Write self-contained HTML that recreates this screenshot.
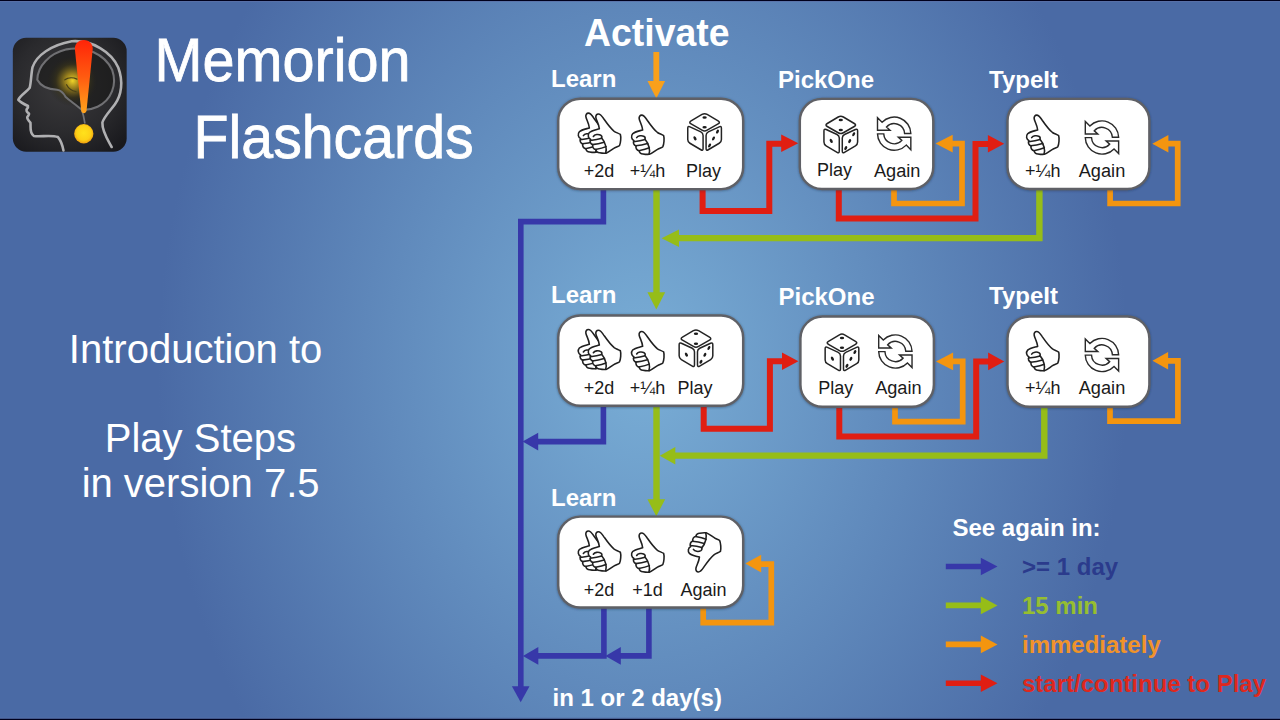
<!DOCTYPE html>
<html lang="en"><head><meta charset="utf-8"><title>Memorion Flashcards - Introduction to Play Steps in version 7.5</title>
<style>
html,body{margin:0;padding:0;width:1280px;height:720px;overflow:hidden;background:#4a6bab}
svg{display:block;font-family:"Liberation Sans",sans-serif}
</style></head><body>
<svg width="1280" height="720" viewBox="0 0 1280 720">
<defs>
<radialGradient id="bg" gradientUnits="userSpaceOnUse" cx="643" cy="365" r="485" gradientTransform="translate(643,365) scale(1,1.28) translate(-643,-365)">
<stop offset="0" stop-color="#79aed6"/><stop offset="1" stop-color="#4a6aa5"/>
</radialGradient>
<filter id="sh" x="-10%" y="-15%" width="120%" height="130%"><feDropShadow dx="0" dy="0.5" stdDeviation="1.2" flood-color="#20304a" flood-opacity="0.55"/></filter>
<g id="thumb" fill="#fff" stroke="#202020" stroke-width="19" stroke-linejoin="round" stroke-linecap="round">
<path d="M860,122 C840,122 826,140 830,165 C836,200 866,240 872,300 C830,312 780,318 752,345 C728,372 738,412 768,428 C752,450 764,482 794,492 C784,515 802,546 832,550 C830,572 852,588 876,587 C900,592 930,594 952,592 C990,580 1030,540 1064,524 C1085,514 1105,510 1114,500 C1128,470 1134,400 1124,368 C1100,352 1070,345 1050,330 C1000,290 960,230 925,180 C905,150 885,122 860,122 Z"/>
<path d="M800,392 C815,368 860,360 890,378 C905,388 905,402 898,408" fill="none"/>
<path d="M764,440 C810,436 860,428 902,414 C925,440 940,470 948,505 C958,540 955,570 948,590" fill="none"/>
<path d="M788,490 C835,486 885,476 930,462" fill="none"/>
<path d="M826,548 C870,540 915,530 952,514" fill="none"/>
</g>
<g id="dice" fill="#fff" stroke="#242424" stroke-width="18" stroke-linejoin="round">
<path d="M384,113 Q415,95 446,113 L577,191 Q608,209 577,227 L446,302 Q415,320 384,302 L253,227 Q222,209 253,191 Z"/>
<path d="M213,280 Q213,250 240,263 L370,323 Q397,336 397,366 L397,522 Q397,552 371,537 L239,459 Q213,444 213,414 Z"/>
<path d="M433,366 Q433,336 460,323 L590,263 Q617,250 617,280 L617,414 Q617,444 591,459 L459,537 Q433,552 433,522 Z"/>
<g fill="#1c1c1c" stroke="none">
<ellipse cx="415" cy="150" rx="26" ry="15"/><ellipse cx="415" cy="268" rx="26" ry="15"/>
<ellipse cx="300" cy="400" rx="16" ry="27" transform="rotate(-28 300 400)"/>
<ellipse cx="570" cy="320" rx="15" ry="26" transform="rotate(28 570 320)"/>
<ellipse cx="522" cy="402" rx="15" ry="26" transform="rotate(28 522 402)"/>
<ellipse cx="475" cy="486" rx="15" ry="26" transform="rotate(28 475 486)"/>
</g></g>
<g id="refresh" fill="#fff" stroke="#2a2a2a" stroke-width="17" stroke-linejoin="miter">
<path id="rfh" d="M550,340 A200,200 0 0 0 205,205 L150,150 L150,300 L300,300 L258,262 A125,125 0 0 1 475,340 Z"/>
<use href="#rfh" transform="rotate(180 350 342)"/>
</g>
<radialGradient id="lg" gradientUnits="userSpaceOnUse" cx="330" cy="300" r="480"><stop offset="0" stop-color="#3b3a3c"/><stop offset="0.6" stop-color="#2a2a2d"/><stop offset="1" stop-color="#19191d"/></radialGradient>
<radialGradient id="glow" gradientUnits="userSpaceOnUse" cx="375" cy="278" r="150"><stop offset="0" stop-color="#f0d428" stop-opacity="1"/><stop offset="0.3" stop-color="#a88c1c" stop-opacity="0.85"/><stop offset="0.65" stop-color="#3c3618" stop-opacity="0.6"/><stop offset="1" stop-color="#1e1e1c" stop-opacity="0"/></radialGradient>
<linearGradient id="ex" gradientUnits="userSpaceOnUse" x1="0" y1="40" x2="0" y2="465"><stop offset="0" stop-color="#ff2408"/><stop offset="0.5" stop-color="#ff5a10"/><stop offset="1" stop-color="#ffa41c"/></linearGradient>
<radialGradient id="dot" gradientUnits="userSpaceOnUse" cx="440" cy="580" r="60"><stop offset="0" stop-color="#ffe21c"/><stop offset="0.7" stop-color="#fdd016"/><stop offset="1" stop-color="#f0a010"/></radialGradient>
</defs>
<rect width="1280" height="720" fill="url(#bg)"/>
<rect width="1280" height="1" fill="#00001c"/><rect y="1" width="1280" height="1" fill="#5a70a8" opacity="0.8"/>
<rect y="718.6" width="1280" height="1.4" fill="#00001c"/><rect y="717.6" width="1280" height="1" fill="#5a70a8" opacity="0.8"/>
<g transform="translate(8,33) scale(0.17224)">
<rect x="28" y="28" width="661" height="661" rx="78" fill="url(#lg)"/>
<path d="M170,272 C172,190 240,120 340,95 C450,75 560,120 605,215 C635,300 600,390 520,428 C490,442 455,448 428,446 C400,420 360,395 335,372 C320,345 305,332 285,330 C245,328 195,320 170,272 Z" fill="#161614" opacity="0.55"/>
<circle cx="375" cy="278" r="150" fill="url(#glow)"/>
<path d="M322,682 C316,650 306,622 290,604 C250,590 190,604 150,598 C122,580 134,545 130,520 C118,508 110,498 112,488 C118,478 124,474 122,468 C108,460 104,450 110,440 C116,434 118,430 116,424 C92,412 70,400 60,388 C66,366 110,340 126,318 C134,290 134,240 142,200 C165,130 250,70 370,48 C490,40 600,110 640,200 C670,280 660,360 620,415 C590,455 555,490 548,520 C545,570 585,630 602,662" fill="none" stroke="#b0b0b2" stroke-width="15" stroke-linecap="round" stroke-linejoin="round"/>
<path d="M170,272 C172,190 240,120 340,95 C450,75 560,120 605,215 C635,300 600,390 520,428 C490,442 455,448 428,446 C400,420 360,395 335,372 C320,345 305,332 285,330 C245,328 195,320 170,272 Z" fill="none" stroke="#707073" stroke-width="12" stroke-linejoin="round"/>
<path d="M428,446 C436,470 442,495 446,522" fill="none" stroke="#737376" stroke-width="10" stroke-linecap="round"/>
<path d="M330,272 C350,258 380,258 400,268 M340,300 C350,320 370,335 395,340" fill="none" stroke="#4a4218" stroke-width="7" stroke-linecap="round"/>
<path d="M388,92 C388,24 492,24 492,92 L456,452 C452,470 428,470 425,452 Z" fill="url(#ex)"/>
<circle cx="440" cy="585" r="56" fill="url(#dot)"/>
</g>
<text x="154.6" y="80.5" font-size="62" fill="#fff" font-weight="normal" text-anchor="start" textLength="256" lengthAdjust="spacingAndGlyphs" stroke="#fff" stroke-width="0.8">Memorion</text>
<text x="193.6" y="157.5" font-size="62" fill="#fff" font-weight="normal" text-anchor="start" textLength="280" lengthAdjust="spacingAndGlyphs" stroke="#fff" stroke-width="0.8">Flashcards</text>
<text x="195.6" y="363" font-size="40" fill="#fff" font-weight="normal" text-anchor="middle">Introduction to</text>
<text x="200.4" y="451.5" font-size="40" fill="#fff" font-weight="normal" text-anchor="middle">Play Steps</text>
<text x="200.6" y="497" font-size="40" fill="#fff" font-weight="normal" text-anchor="middle">in version 7.5</text>
<text x="584" y="46.2" font-size="39.5" fill="#fff" font-weight="bold" text-anchor="start" textLength="145.5" lengthAdjust="spacingAndGlyphs">Activate</text>
<text x="551" y="86.5" font-size="24" fill="#fff" font-weight="bold" text-anchor="start">Learn</text>
<text x="778" y="87.5" font-size="24" fill="#fff" font-weight="bold" text-anchor="start">PickOne</text>
<text x="989" y="87.5" font-size="24" fill="#fff" font-weight="bold" text-anchor="start">TypeIt</text>
<text x="551" y="303" font-size="24" fill="#fff" font-weight="bold" text-anchor="start">Learn</text>
<text x="778.5" y="305" font-size="24" fill="#fff" font-weight="bold" text-anchor="start">PickOne</text>
<text x="989" y="304" font-size="24" fill="#fff" font-weight="bold" text-anchor="start">TypeIt</text>
<text x="551" y="506" font-size="24" fill="#fff" font-weight="bold" text-anchor="start">Learn</text>
<text x="552.5" y="705.5" font-size="24" fill="#fff" font-weight="bold" text-anchor="start">in 1 or 2 day(s)</text>
<polyline points="603.4,185 603.4,221.6 520.8,221.6 520.8,690" fill="none" stroke="#3738a9" stroke-width="5.6" stroke-linejoin="miter"/>
<polygon points="520.7,702.3 511.9,686.3 529.5,686.3" fill="#3738a9"/>
<polyline points="603.4,400 603.4,441.6 536,441.6" fill="none" stroke="#3738a9" stroke-width="5.6" stroke-linejoin="miter"/>
<polygon points="522.6,441.6 538.2,432.8 538.2,450.4" fill="#3738a9"/>
<polyline points="603.9,600 603.9,655.9 536,655.9" fill="none" stroke="#3738a9" stroke-width="5.6" stroke-linejoin="miter"/>
<polygon points="522.9,655.9 538.3,647.1 538.3,664.7" fill="#3738a9"/>
<polyline points="648.9,600 648.9,655.9 619,655.9" fill="none" stroke="#3738a9" stroke-width="5.6" stroke-linejoin="miter"/>
<polygon points="605.4,655.9 620.8,647.1 620.8,664.7" fill="#3738a9"/>
<polyline points="656.3,52 656.3,83" fill="none" stroke="#f9a01b" stroke-width="5.8" stroke-linejoin="miter"/>
<polygon points="656.3,98.5 647.5,81.0 665.1,81.0" fill="#f9a01b"/>
<polyline points="656.5,185 656.5,294" fill="none" stroke="#96bd18" stroke-width="6.4" stroke-linejoin="miter"/>
<polygon points="656.3,309.6 647.4,292.3 665.2,292.3" fill="#96bd18"/>
<polyline points="656.5,400 656.5,501" fill="none" stroke="#96bd18" stroke-width="6.4" stroke-linejoin="miter"/>
<polygon points="656.3,516.2 647.4,499.2 665.2,499.2" fill="#96bd18"/>
<polyline points="1039.4,185 1039.4,238.1 677,238.1" fill="none" stroke="#96bd18" stroke-width="6.4" stroke-linejoin="miter"/>
<polygon points="661.6,238.3 679.0,229.5 679.0,247.1" fill="#96bd18"/>
<polyline points="1044.3,400 1044.3,455.6 674,455.6" fill="none" stroke="#96bd18" stroke-width="6.4" stroke-linejoin="miter"/>
<polygon points="659.8,455.7 675.3,446.9 675.3,464.5" fill="#96bd18"/>
<polyline points="702.6,185 702.6,211.1 769.3,211.1 769.3,143.7 783,143.7" fill="none" stroke="#e01e12" stroke-width="6.0" stroke-linejoin="miter"/>
<polygon points="798.3,143.2 781.2,134.4 781.2,152.0" fill="#e01e12"/>
<polyline points="838.8,185 838.8,218.4 975.5,218.4 975.5,143.9 989,143.9" fill="none" stroke="#e01e12" stroke-width="6.0" stroke-linejoin="miter"/>
<polygon points="1004.2,143.7 987.9,134.9 987.9,152.5" fill="#e01e12"/>
<polyline points="894,185 894,203.5 962,203.5 962,143.7 951,143.7" fill="none" stroke="#f4950f" stroke-width="5.7" stroke-linejoin="miter"/>
<polygon points="935.5,143.6 952.7,134.8 952.7,152.4" fill="#f4950f"/>
<polyline points="1110.1,185 1110.1,203.5 1177.7,203.5 1177.7,143.7 1167,143.7" fill="none" stroke="#f4950f" stroke-width="5.7" stroke-linejoin="miter"/>
<polygon points="1152.3,143.7 1168.4,134.9 1168.4,152.5" fill="#f4950f"/>
<polyline points="703.7,400 703.7,428.7 769.9,428.7 769.9,361.2 784,361.2" fill="none" stroke="#e01e12" stroke-width="6.0" stroke-linejoin="miter"/>
<polygon points="798.4,361.3 782.0,352.5 782.0,370.1" fill="#e01e12"/>
<polyline points="839.3,400 839.3,436.6 976.2,436.6 976.2,361.4 989,361.4" fill="none" stroke="#e01e12" stroke-width="6.0" stroke-linejoin="miter"/>
<polygon points="1004.3,361.4 988.1,352.6 988.1,370.2" fill="#e01e12"/>
<polyline points="895,400 895,421.6 962.7,421.6 962.7,361.4 952,361.4" fill="none" stroke="#f4950f" stroke-width="5.7" stroke-linejoin="miter"/>
<polygon points="936,361.4 953.1,352.6 953.1,370.2" fill="#f4950f"/>
<polyline points="1110,400 1110,421.2 1177.9,421.2 1177.9,360.8 1167,360.8" fill="none" stroke="#f4950f" stroke-width="5.7" stroke-linejoin="miter"/>
<polygon points="1152.5,360.8 1168.1,352.0 1168.1,369.6" fill="#f4950f"/>
<polyline points="703.2,600 703.2,622.6 771.3,622.6 771.3,564.1 760,564.1" fill="none" stroke="#f4950f" stroke-width="5.7" stroke-linejoin="miter"/>
<polygon points="745.3,563.6 761.2,554.8 761.2,572.4" fill="#f4950f"/>
<rect x="558.25" y="98.75" width="184.89999999999998" height="90.4" rx="22" ry="22" fill="#fff" stroke="#5f6166" stroke-width="2.4" filter="url(#sh)"/>
<use href="#thumb" transform="translate(516.70,103.00) scale(0.08333)"/>
<use href="#thumb" transform="translate(526.70,103.80) scale(0.08333)"/>
<use href="#thumb" transform="translate(570.00,105.00) scale(0.08333)"/>
<use href="#dice" transform="translate(670.00,105.00) scale(0.08333)"/>
<text x="599" y="176.7" font-size="18" fill="#1a1a1a" font-weight="normal" text-anchor="middle">+2d</text>
<text x="647.5" y="176.7" font-size="18" fill="#1a1a1a" font-weight="normal" text-anchor="middle">+¼h</text>
<text x="703.5" y="176.7" font-size="18" fill="#1a1a1a" font-weight="normal" text-anchor="middle">Play</text>
<rect x="799.85" y="98.85" width="133.39999999999998" height="90.1" rx="22" ry="22" fill="#fff" stroke="#5f6166" stroke-width="2.4" filter="url(#sh)"/>
<use href="#dice" transform="translate(806.20,107.60) scale(0.08333)"/>
<use href="#refresh" transform="translate(865.00,105.20) scale(0.08333)"/>
<text x="834.5" y="175.8" font-size="18" fill="#1a1a1a" font-weight="normal" text-anchor="middle">Play</text>
<text x="897.2" y="176.6" font-size="18" fill="#1a1a1a" font-weight="normal" text-anchor="middle" textLength="46.5" lengthAdjust="spacingAndGlyphs">Again</text>
<rect x="1007.55" y="98.85" width="141.79999999999995" height="90.1" rx="22" ry="22" fill="#fff" stroke="#5f6166" stroke-width="2.4" filter="url(#sh)"/>
<use href="#thumb" transform="translate(965.00,105.00) scale(0.08333)"/>
<use href="#refresh" transform="translate(1072.80,109.00) scale(0.08333)"/>
<text x="1042.7" y="176.6" font-size="18" fill="#1a1a1a" font-weight="normal" text-anchor="middle">+¼h</text>
<text x="1102" y="176.6" font-size="18" fill="#1a1a1a" font-weight="normal" text-anchor="middle" textLength="46.5" lengthAdjust="spacingAndGlyphs">Again</text>
<rect x="558.25" y="315.55" width="184.89999999999998" height="90.19999999999999" rx="22" ry="22" fill="#fff" stroke="#5f6166" stroke-width="2.4" filter="url(#sh)"/>
<use href="#thumb" transform="translate(516.70,319.30) scale(0.08333)"/>
<use href="#thumb" transform="translate(526.70,320.10) scale(0.08333)"/>
<use href="#thumb" transform="translate(570.00,321.30) scale(0.08333)"/>
<use href="#dice" transform="translate(661.40,321.30) scale(0.08333)"/>
<text x="599" y="394.4" font-size="18" fill="#1a1a1a" font-weight="normal" text-anchor="middle">+2d</text>
<text x="647.5" y="394.4" font-size="18" fill="#1a1a1a" font-weight="normal" text-anchor="middle">+¼h</text>
<text x="694.9" y="393.79999999999995" font-size="18" fill="#1a1a1a" font-weight="normal" text-anchor="middle">Play</text>
<rect x="800.45" y="316.55" width="133.39999999999998" height="90.19999999999999" rx="22" ry="22" fill="#fff" stroke="#5f6166" stroke-width="2.4" filter="url(#sh)"/>
<use href="#dice" transform="translate(807.40,325.40) scale(0.08333)"/>
<use href="#refresh" transform="translate(866.20,323.00) scale(0.08333)"/>
<text x="835.7" y="393.6" font-size="18" fill="#1a1a1a" font-weight="normal" text-anchor="middle">Play</text>
<text x="898.4000000000001" y="394.4" font-size="18" fill="#1a1a1a" font-weight="normal" text-anchor="middle" textLength="46.5" lengthAdjust="spacingAndGlyphs">Again</text>
<rect x="1007.55" y="316.55" width="141.79999999999995" height="90.19999999999999" rx="22" ry="22" fill="#fff" stroke="#5f6166" stroke-width="2.4" filter="url(#sh)"/>
<use href="#thumb" transform="translate(965.00,321.40) scale(0.08333)"/>
<use href="#refresh" transform="translate(1072.80,326.50) scale(0.08333)"/>
<text x="1042.7" y="393.9" font-size="18" fill="#1a1a1a" font-weight="normal" text-anchor="middle">+¼h</text>
<text x="1102" y="393.9" font-size="18" fill="#1a1a1a" font-weight="normal" text-anchor="middle" textLength="46.5" lengthAdjust="spacingAndGlyphs">Again</text>
<rect x="558.25" y="516.65" width="184.89999999999998" height="90.89999999999998" rx="22" ry="22" fill="#fff" stroke="#5f6166" stroke-width="2.4" filter="url(#sh)"/>
<use href="#thumb" transform="translate(516.70,520.80) scale(0.08333)"/>
<use href="#thumb" transform="translate(526.70,521.60) scale(0.08333)"/>
<use href="#thumb" transform="translate(570.00,522.80) scale(0.08333)"/>
<use href="#thumb" transform="translate(626.75,582.10) scale(0.08333,-0.08333)"/>
<text x="599" y="595.8" font-size="18" fill="#1a1a1a" font-weight="normal" text-anchor="middle">+2d</text>
<text x="647.5" y="595.8" font-size="18" fill="#1a1a1a" font-weight="normal" text-anchor="middle">+1d</text>
<text x="703.5" y="595.8" font-size="18" fill="#1a1a1a" font-weight="normal" text-anchor="middle">Again</text>
<text x="952.5" y="535.6" font-size="24" fill="#fff" font-weight="bold" text-anchor="start">See again in:</text>
<polyline points="945.8,566.5 982,566.5" fill="none" stroke="#3738a9" stroke-width="5.6" stroke-linejoin="miter"/>
<polygon points="997.5,566.5 980.8,557.7 980.8,575.3" fill="#3738a9"/>
<text x="1022" y="574.7" font-size="24" fill="#2b3b8c" font-weight="bold" text-anchor="start">&gt;= 1 day</text>
<polyline points="945.8,605.4 982,605.4" fill="none" stroke="#96bd18" stroke-width="5.6" stroke-linejoin="miter"/>
<polygon points="997.5,605.4 980.8,596.6 980.8,614.2" fill="#96bd18"/>
<text x="1022" y="614.2" font-size="24" fill="#96be30" font-weight="bold" text-anchor="start">15 min</text>
<polyline points="945.8,644.4 982,644.4" fill="none" stroke="#f4950f" stroke-width="5.6" stroke-linejoin="miter"/>
<polygon points="997.5,644.4 980.8,635.6 980.8,653.2" fill="#f4950f"/>
<text x="1022" y="653.2" font-size="24" fill="#f0932a" font-weight="bold" text-anchor="start">immediately</text>
<polyline points="945.8,683.3 982,683.3" fill="none" stroke="#e01e12" stroke-width="5.6" stroke-linejoin="miter"/>
<polygon points="997.5,683.3 980.8,674.5 980.8,692.1" fill="#e01e12"/>
<text x="1022" y="691.6" font-size="24" fill="#de281e" font-weight="bold" text-anchor="start">start/continue to Play</text>
</svg>
</body></html>
